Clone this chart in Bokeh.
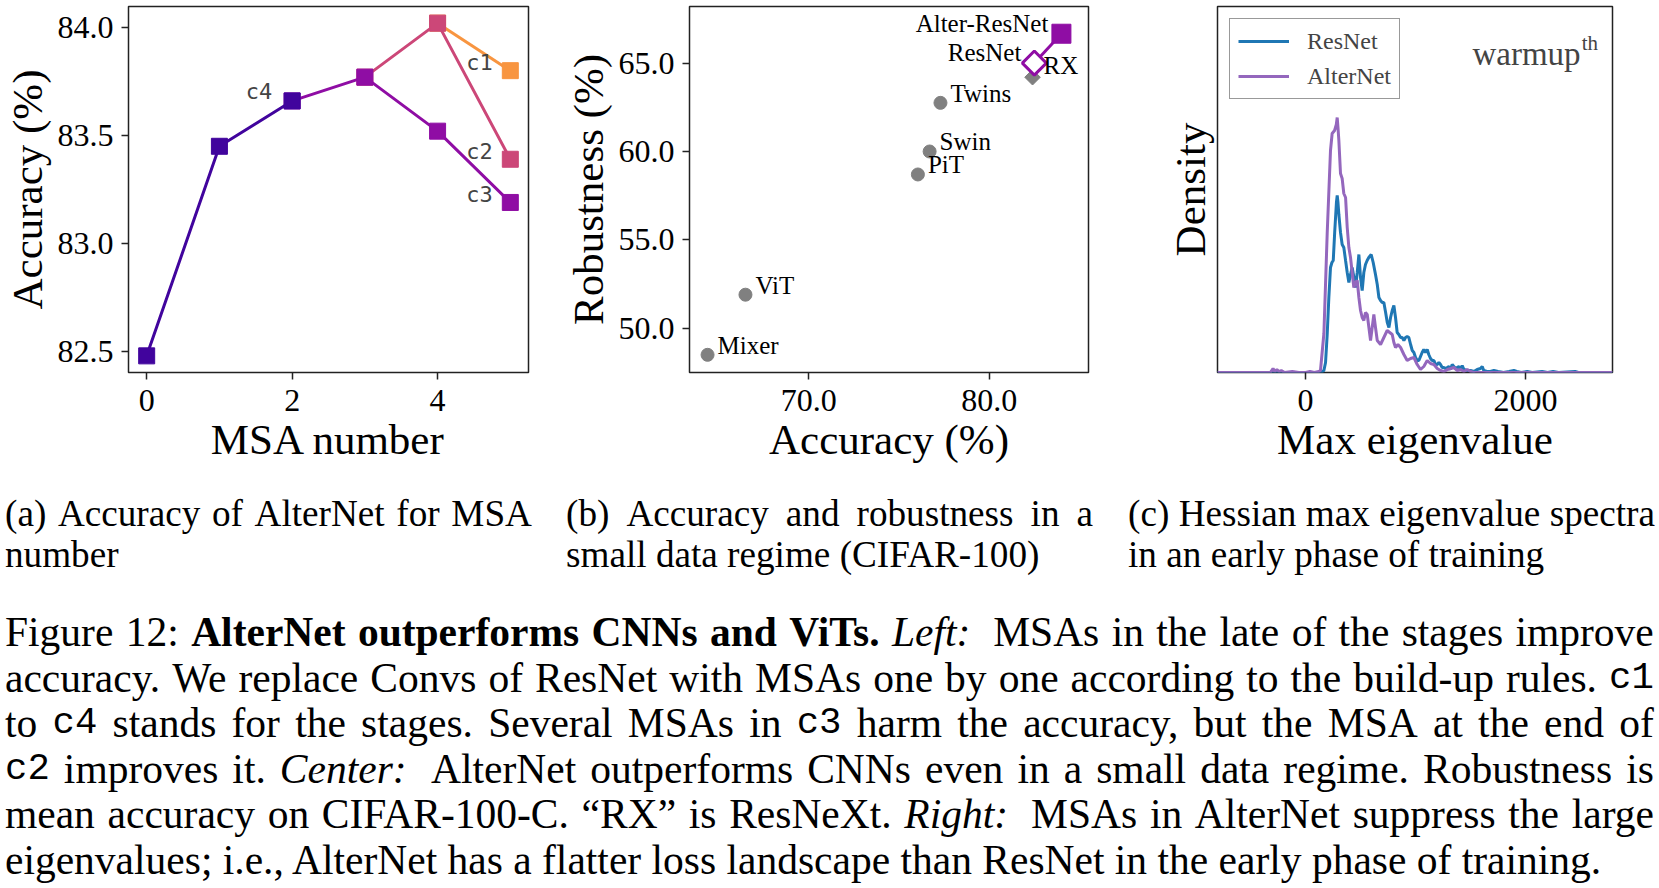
from bokeh.plotting import figure
from bokeh.models import (Range1d, FixedTicker, NumeralTickFormatter, ColumnDataSource,
                          LabelSet, Label, Div)
from bokeh.layouts import row, column
from bokeh.embed import file_html
from bokeh.resources import INLINE
from bokeh.core.properties import value

SERIF = "Liberation Serif"

# ---------------- data: panel (a) ----------------
c4_msa = [0, 1, 2]
c4_acc = [82.48, 83.45, 83.66]
c3_msa = [2, 3, 4, 5]
c3_acc = [83.66, 83.77, 83.52, 83.19]
c2_msa = [3, 4, 5]
c2_acc = [83.77, 84.02, 83.39]
c1_msa = [4, 5]
c1_acc = [84.02, 83.80]
stage_colors = {"c1": "#f89540", "c2": "#cc4778", "c3": "#8f0da4", "c4": "#41049d"}

# ---------------- data: panel (b) ----------------
model_names = ["Mixer", "ViT", "PiT", "Swin", "Twins"]
model_acc = [64.4, 66.5, 76.05, 76.7, 77.3]
model_rob = [48.5, 51.9, 58.7, 60.0, 62.75]
rx_acc = [82.4]
rx_rob = [64.2]
resnet_acc = [82.5]
resnet_rob = [65.0]
alter_acc = [84.0]
alter_rob = [66.66]

# ---------------- data: panel (c) (density, arbitrary units) ----------------
eig_resnet = [-800, 140, 167, 182, 197, 212, 227, 240, 252, 265, 273, 281, 288, 295, 303, 318,
              333, 348, 364, 379, 394, 409, 424, 440, 455, 470, 485, 500, 515, 530, 545, 560,
              575, 597, 615, 636, 652, 667, 682, 697, 712, 728, 743, 758, 773, 788, 803, 818,
              833, 848, 864, 879, 894, 909, 924, 939, 955, 970, 985, 1000, 1015, 1030, 1045,
              1060, 1075, 1090, 1106, 1120, 1136, 1151, 1167, 1182, 1197, 1212, 1227, 1242,
              1257, 1272, 1288, 1303, 1318, 1333, 1348, 1363, 1378, 1394, 1409, 1424, 1440,
              1470, 1500, 1530, 1560, 1590, 1606, 1620, 1650, 1680, 1712, 1750, 1800, 1850,
              1894, 1920, 1960, 2015, 2060, 2150, 2200, 2250, 2300, 2450, 2480, 2790]
dens_resnet = [0, 0, 2, 10, 38, 75, 105, 110, 112, 140, 155, 170, 177, 170, 158, 140,
               128, 125, 112, 100, 90, 98, 105, 95, 85, 100, 118, 95, 82, 100, 108, 112,
               115, 118, 110, 98, 88, 75, 72, 70, 70, 60, 50, 45, 55, 62, 67, 55,
               40, 38, 35, 35, 32, 35, 36, 35, 28, 22, 20, 15, 12, 12, 16,
               20, 23, 20, 23, 18, 14, 12, 12, 8, 8, 10, 8, 5,
               5, 4, 5, 6, 3, 8, 6, 4, 5, 6, 3, 7, 3,
               2, 2, 1, 3, 4, 6, 2, 1, 1, 2, 1, 0, 1,
               2, 1, 0, 1, 0, 1, 0, 1, 0, 1, 0, 0]
eig_alternet = [-800, -320, -295, -280, -260, -240, -220, -190, -120, -60, 0, 40, 80, 120, 136,
                167, 197, 227, 242, 264, 280, 288, 295, 303, 318, 333, 348, 364, 379, 394, 409,
                424, 439, 455, 470, 485, 500, 515, 530, 545, 561, 576, 591, 606, 621, 636, 652,
                667, 682, 712, 742, 765, 788, 803, 818, 840, 864, 894, 924, 955, 985, 1015,
                1045, 1075, 1106, 1136, 1167, 1197, 1227, 1260, 1290, 1320, 1348, 1380, 1410,
                1440, 1470, 1500, 1530, 2790]
dens_alternet = [0, 0, 4, 1, 3, 1, 2, 0, 1, 0, 0, 1, 0, 1, 2,
                 39, 139, 222, 239, 242, 248, 255, 245, 232, 199, 194, 179, 175, 145, 125, 115,
                 100, 85, 90, 92, 75, 62, 55, 52, 60, 58, 45, 32, 45, 58, 45, 32,
                 30, 28, 35, 42, 40, 38, 30, 25, 28, 25, 18, 12, 14, 15, 8,
                 3, 6, 12, 9, 8, 4, 2, 1, 3, 4, 5, 2, 3,
                 1, 3, 1, 0, 0]

# ---------------- caption texts ----------------
sub_a = ["(a) Accuracy of AlterNet for MSA", "number"]
sub_b = ["(b) Accuracy and robustness in a", "small data regime (CIFAR-100)"]
sub_c = ["(c) Hessian max eigenvalue spectra", "in an early phase of training"]
caption_lines = [
    [("Figure 12:", ""), ("AlterNet outperforms CNNs and ViTs.", "b"), ("Left:", "i"),
     ("MSAs in the late of the stages improve", "")],
    [("accuracy. We replace Convs of ResNet with MSAs one by one according to the build-up rules.", ""),
     ("c1", "tt")],
    [("to", ""), ("c4", "tt"), ("stands for the stages. Several MSAs in", ""), ("c3", "tt"),
     ("harm the accuracy, but the MSA at the end of", "")],
    [("c2", "tt"), ("improves it.", ""), ("Center:", "i"),
     ("AlterNet outperforms CNNs even in a small data regime. Robustness is", "")],
    [("mean accuracy on CIFAR-100-C. \u201cRX\u201d is ResNeXt.", ""), ("Right:", "i"),
     ("MSAs in AlterNet suppress the large", "")],
    [("eigenvalues; i.e., AlterNet has a flatter loss landscape than ResNet in the early phase of training.", "")],
]


def style(p):
    p.outline_line_color = "#222222"
    p.outline_line_width = 1.5
    p.grid.visible = False
    p.background_fill_color = "white"
    p.border_fill_color = "white"
    for ax in p.axis:
        ax.axis_line_color = None
        ax.major_tick_line_color = "#222222"
        ax.major_tick_line_width = 1.5
        ax.major_tick_out = 7
        ax.major_tick_in = 0
        ax.minor_tick_line_color = None
        ax.major_label_text_font = SERIF
        ax.major_label_text_font_size = "32px"
        ax.major_label_text_color = "black"
        ax.axis_label_text_font = SERIF
        ax.axis_label_text_font_size = "43px"
        ax.axis_label_text_font_style = "normal"
        ax.axis_label_text_color = "black"
    p.xaxis.major_label_standoff = 10
    p.yaxis.major_label_standoff = 8
    p.xaxis.axis_label_standoff = 2
    p.yaxis.axis_label_standoff = 4


H = 480

# ---------------- panel (a) ----------------
all_acc = c4_acc + c3_acc + c2_acc + c1_acc
lo, hi = min(all_acc), max(all_acc)
pad = 0.05 * (hi - lo)
pa = figure(width=560, height=H, output_backend="svg", toolbar_location=None,
            x_range=Range1d(-0.25, 5.25), y_range=Range1d(lo - pad, hi + pad),
            min_border_left=128, min_border_right=32, min_border_top=2,
            min_border_bottom=H - 2 - 371)
style(pa)
pa.xaxis.axis_label = "MSA number"
pa.yaxis.axis_label = "Accuracy (%)"
pa.xaxis.ticker = FixedTicker(ticks=[0, 2, 4])
pa.yaxis.ticker = FixedTicker(ticks=[82.5, 83.0, 83.5, 84.0])
pa.yaxis.formatter = NumeralTickFormatter(format="0.0")
for key, xs, ys in [("c1", c1_msa, c1_acc), ("c2", c2_msa, c2_acc),
                    ("c3", c3_msa, c3_acc), ("c4", c4_msa, c4_acc)]:
    col = stage_colors[key]
    pa.line(xs, ys, line_color=col, line_width=3)
    pa.scatter(xs, ys, marker="square", size=16, fill_color=col, line_color=col)

for key, xs, ys in [("c1", c1_msa, c1_acc), ("c2", c2_msa, c2_acc), ("c3", c3_msa, c3_acc)]:
    pa.add_layout(Label(x=xs[-1], y=ys[-1], text=key, x_offset=-44, y_offset=8,
                        text_align="left", text_font="DejaVu Sans Mono",
                        text_font_size="22px", text_baseline="middle"))
pa.add_layout(Label(x=c4_msa[-1], y=c4_acc[-1], text="c4", x_offset=-20, y_offset=9,
                    text_align="right", text_font="DejaVu Sans Mono",
                    text_font_size="22px", text_baseline="middle"))

# ---------------- panel (b) ----------------
pb = figure(width=570, height=H, output_backend="svg", toolbar_location=None,
            x_range=Range1d(63.4, 85.5), y_range=Range1d(47.5, 68.2),
            min_border_left=129, min_border_right=42, min_border_top=2,
            min_border_bottom=H - 2 - 370)
style(pb)
pb.xaxis.axis_label = "Accuracy (%)"
pb.yaxis.axis_label = "Robustness (%)"
pb.xaxis.ticker = FixedTicker(ticks=[70, 80])
pb.yaxis.ticker = FixedTicker(ticks=[50, 55, 60, 65])
pb.xaxis.formatter = NumeralTickFormatter(format="0.0")
pb.yaxis.formatter = NumeralTickFormatter(format="0.0")

src_models = ColumnDataSource(dict(x=model_acc, y=model_rob, name=model_names))
pb.scatter("x", "y", source=src_models, marker="circle", size=13,
           fill_color="#808080", line_color="#808080")
pb.scatter(rx_acc, rx_rob, marker="square", angle=0.785398, size=11,
           fill_color="#808080", line_color="#808080")
pb.line(resnet_acc + alter_acc, resnet_rob + alter_rob, line_color="#8f0da4", line_width=3)
pb.scatter(resnet_acc, resnet_rob, marker="square", angle=0.785398, size=17,
           fill_color="white", line_color="#8f0da4", line_width=3)
pb.scatter(alter_acc, alter_rob, marker="square", size=19,
           fill_color="#8f0da4", line_color="#8f0da4")

lab_font = dict(text_font=value(SERIF), text_font_size="25px", text_color="black")
pb.add_layout(LabelSet(x="x", y="y", text="name", source=src_models, x_offset=10, y_offset=1,
                       text_align="left", text_baseline="alphabetic", **lab_font))
pb.add_layout(LabelSet(x="x", y="y", text="name",
                       source=ColumnDataSource(dict(x=rx_acc, y=rx_rob, name=["RX"])),
                       x_offset=11, y_offset=3, text_align="left",
                       text_baseline="alphabetic", **lab_font))
pb.add_layout(LabelSet(x="x", y="y", text="name",
                       source=ColumnDataSource(dict(x=resnet_acc + alter_acc,
                                                    y=resnet_rob + alter_rob,
                                                    name=["ResNet", "Alter-ResNet"])),
                       x_offset=-13, y_offset=2, text_align="right",
                       text_baseline="alphabetic", **lab_font))

# ---------------- panel (c) ----------------
pc = figure(width=529, height=H, output_backend="svg", toolbar_location=None,
            x_range=Range1d(-800, 2790), y_range=Range1d(0, 366),
            min_border_left=87, min_border_right=47, min_border_top=6,
            min_border_bottom=H - 6 - 366)
style(pc)
pc.xaxis.axis_label = "Max eigenvalue"
pc.yaxis.axis_label = "Density"
pc.xaxis.ticker = FixedTicker(ticks=[0, 2000])
pc.xaxis.formatter = NumeralTickFormatter(format="0")
pc.yaxis.ticker = FixedTicker(ticks=[])
pc.yaxis.major_tick_line_color = None
pc.yaxis.major_tick_out = 0
pc.yaxis.major_label_standoff = 0
pc.yaxis.axis_label_standoff = 4
pc.line(eig_resnet, dens_resnet, line_color="#1f77b4", line_width=3, legend_label="ResNet")
pc.line(eig_alternet, dens_alternet, line_color="#9467bd", line_width=3, legend_label="AlterNet")
lg = pc.legend[0]
lg.location = "top_left"
lg.margin = 12
lg.padding = 8
lg.spacing = 7
lg.glyph_width = 51
lg.glyph_height = 28
lg.label_height = 28
lg.label_standoff = 18
lg.label_text_font = SERIF
lg.label_text_font_size = "24px"
lg.border_line_color = "#333333"
lg.border_line_width = 1.5
lg.background_fill_alpha = 1.0
pc.add_layout(Label(x=2500, y=319, text="warmup", text_align="right",
                    text_baseline="alphabetic", text_font=SERIF, text_font_size="33px"))
pc.add_layout(Label(x=2510, y=330, text="th", text_align="left",
                    text_baseline="alphabetic", text_font=SERIF, text_font_size="21px"))


# ---------------- captions (HTML) ----------------
def word_spans(segments):
    out = []
    for text, st in segments:
        for w in text.split(" "):
            if not w:
                continue
            css = ""
            if st == "b":
                css = "font-weight: bold;"
            elif st == "i":
                css = "font-style: italic; margin-right: 0.25em;"
            elif st == "tt":
                css = "font-family: 'Liberation Mono', monospace; font-size: 0.9em;"
            out.append('<span style="%s">%s</span>' % (css, w))
    return out


def just_line(segments, lh, w):
    return ('<div style="display: flex; justify-content: space-between; white-space: nowrap; '
            'width: %spx; height: %spx; line-height: %spx;">%s</div>'
            % (w, lh, lh, "".join(word_spans(segments))))


def plain_line(segments, lh, w):
    return ('<div style="white-space: nowrap; width: %spx; height: %spx; line-height: %spx;">%s</div>'
            % (w, lh, lh, " ".join(word_spans(segments))))


SUB_W = 527


def subcap(lines, ml):
    html = ('<div style="width: %dpx">' % SUB_W + just_line([(lines[0], "")], 41, SUB_W)
            + plain_line([(lines[1], "")], 41, SUB_W) + "</div>")
    return Div(text=html, width=SUB_W, height=82, margin=(13, 0, 0, ml),
               styles={"font-family": "'Liberation Serif', serif", "font-size": "37.2px",
                       "color": "black", "padding": "0px"})


da = subcap(sub_a, 5)
db = subcap(sub_b, 34)
dc = subcap(sub_c, 35)

MAIN_W = 1649
main_html = ('<div style="width: %dpx">' % MAIN_W
             + "".join(just_line(l, 45.5, MAIN_W) for l in caption_lines[:-1])
             + plain_line(caption_lines[-1], 45.5, MAIN_W) + "</div>")
dmain = Div(text=main_html, width=MAIN_W, height=273, margin=(35, 0, 0, 5),
            styles={"font-family": "'Liberation Serif', serif", "font-size": "41.5px",
                    "color": "black", "padding": "0px"})

layout = column(row(pa, pb, pc, spacing=0), row(da, db, dc, spacing=0), dmain, spacing=0)

open("out.html", "w").write(file_html(layout, INLINE))
